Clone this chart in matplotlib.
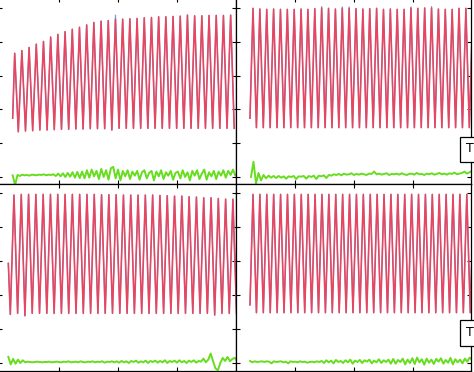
import numpy as np
import matplotlib
matplotlib.use("Agg")
import matplotlib.pyplot as plt

RED = "#e84560"
BLUE = "#5aa9e6"
GREEN = "#66dd1e"

# red/blue traces: start point, then alternating extrema
tl_start = (0.215, 1.74)
tl_first_t, tl_period = 0.249, 0.1220
tl_peaks = [3.66, 3.74, 3.83, 3.93, 4.01, 4.14, 4.22, 4.30, 4.37, 4.43, 4.50, 4.57,
            4.61, 4.63, 4.67, 4.67, 4.68, 4.69, 4.71, 4.72, 4.74, 4.74, 4.75, 4.76,
            4.79, 4.77, 4.77, 4.78, 4.78, 4.78, 4.79]
tl_troughs = [1.34, 1.36, 1.37, 1.39, 1.39, 1.40, 1.41, 1.41, 1.42, 1.42, 1.43, 1.43,
              1.43, 1.39, 1.44, 1.44, 1.44, 1.44, 1.44, 1.44, 1.44, 1.44, 1.44, 1.44,
              1.44, 1.44, 1.44, 1.44, 1.44, 1.44, 1.44]
tl_blue = {14: 4.79}

tr_start = (0.237, 1.74)
tr_first_t, tr_period = 0.288, 0.1164
tr_peaks = [4.99, 4.97, 4.96, 4.97, 4.96, 4.96, 4.96, 4.97, 4.96, 4.98, 5.00, 4.99,
            4.97, 4.99, 4.99, 4.98, 4.97, 4.98, 4.99, 4.96, 4.97, 4.96, 4.96, 5.00,
            4.99, 5.00, 5.00, 4.97, 4.96, 4.96, 4.99, 4.99, 5.01]
tr_troughs = [1.46] * 32
tr_blue = {10: 5.04, 13: 5.03, 14: 5.03, 23: 5.03, 26: 5.04, 32: 5.04}

bl_start = (0.141, 2.93)
bl_first_t, bl_period = 0.175, 0.1237
bl_troughs = [1.43, 1.46, 1.39, 1.46, 1.46, 1.46, 1.46, 1.46, 1.46, 1.46, 1.46, 1.46,
              1.46, 1.46, 1.46, 1.46, 1.46, 1.46, 1.46, 1.46, 1.46, 1.46, 1.46, 1.46,
              1.46, 1.46, 1.46, 1.46, 1.41, 1.46, 1.46, 1.46]
bl_peaks = [4.94, 4.96, 4.96, 4.96, 4.96, 4.96, 4.96, 4.96, 4.96, 4.96, 4.96, 4.96,
            4.95, 4.95, 4.95, 4.94, 4.94, 4.94, 4.94, 4.94, 4.93, 4.92, 4.91, 4.91,
            4.89, 4.88, 4.86, 4.86, 4.84, 4.82, 4.82]
bl_blue = {}

br_start = (0.237, 1.71)
br_first_t, br_period = 0.288, 0.1169
br_peaks = [4.96] * 33
br_troughs = [1.48] * 32
br_blue = {}

# green error traces
tl_green_t = (0.215, 4.03)
tl_green = [0.05, -0.24, 0.06, 0.03, 0.07, 0.05, 0.06, 0.04, 0.07, 0.06, 0.05, 0.07,
            0.06, 0.08, 0.05, 0.07, 0.06, 0.08, 0.03, 0.10, 0.02, 0.11, 0.00, 0.12,
            0.01, 0.14, -0.02, 0.15, -0.03, 0.16, -0.04, 0.20, -0.02, 0.22, 0.02, 0.18,
            -0.06, 0.24, 0.00, 0.20, -0.08, 0.26, 0.30, -0.04, 0.22, -0.10, 0.18, 0.02,
            0.20, -0.06, 0.16, 0.04, 0.18, -0.08, 0.14, 0.20, -0.04, 0.12, 0.18, -0.10,
            0.16, 0.02, 0.20, -0.06, 0.14, 0.04, 0.18, -0.08, 0.12, 0.16, -0.04, 0.20,
            0.00, 0.14, -0.10, 0.18, 0.04, 0.20, -0.06, 0.10, 0.22, -0.08, 0.14, 0.02,
            0.18, -0.06, 0.16, 0.04, 0.20, -0.02, 0.18, 0.06, 0.22, 0.04, 0.12]

tr_green_t = (0.254, 4.0)
tr_green = [0.00, 0.45, -0.19, 0.12, -0.10, 0.06, -0.04, 0.04, -0.02, 0.03, -0.03, 0.03,
            -0.02, 0.02, -0.05, 0.02, 0.00, 0.03, -0.06, 0.02, 0.01, 0.03, -0.05, 0.03,
            0.00, 0.04, -0.06, 0.04, 0.02, 0.05, -0.03, 0.06, 0.04, 0.08, 0.06, 0.09,
            0.05, 0.10, 0.07, 0.08, 0.11, 0.06, 0.09, 0.07, 0.10, 0.08, 0.06, 0.10,
            0.09, 0.16, 0.08, 0.10, 0.07, 0.09, 0.11, 0.06, 0.09, 0.08, 0.10, 0.07,
            0.11, 0.08, 0.06, 0.09, 0.10, 0.07, 0.12, 0.08, 0.09, 0.06, 0.10, 0.08,
            0.11, 0.07, 0.09, 0.12, 0.08, 0.10, 0.07, 0.11, 0.09, 0.13, 0.08, 0.10,
            0.12, 0.16, 0.10, 0.14, 0.18]

bl_green_t = (0.141, 4.02)
bl_green = [0.18, -0.04, 0.12, -0.02, 0.10, 0.00, 0.08, 0.02, 0.04,
            0.03, 0.02, 0.03, 0.04, 0.03, 0.02, 0.03, 0.03, 0.04, 0.02, 0.03, 0.04,
            0.03, 0.02, 0.04, 0.03, 0.05, 0.02, 0.03, 0.04, 0.02, 0.05, 0.03, 0.02,
            0.04, 0.03, 0.05, 0.02, 0.04, 0.03, 0.05, 0.01, 0.04, 0.03, 0.05, 0.02,
            0.05, 0.01, 0.06, 0.02, 0.05, 0.00, 0.06, 0.03, 0.07, 0.01, 0.05, 0.02,
            0.07, 0.00, 0.06, 0.03, 0.07, 0.01, 0.06, 0.02, 0.08, 0.00, 0.06, 0.03,
            0.07, 0.01, 0.08, 0.02, 0.06, 0.00, 0.07, 0.03, 0.08, 0.01, 0.06,
            0.04, 0.13, 0.02, 0.10, 0.28, 0.05, -0.16, -0.21, 0.00, 0.15, 0.06, 0.18,
            0.05, 0.12, 0.15, 0.06]

br_green_t = (0.237, 4.0)
br_green = [0.06, 0.02, 0.05, 0.03, 0.04, 0.05, 0.03, 0.05, 0.04, -0.01, 0.05, 0.03,
            0.04, 0.05, 0.02, 0.04, -0.01, 0.05, 0.03, 0.04, 0.02, 0.05, 0.03, 0.04,
            0.01, 0.03, 0.04, 0.02, 0.05, 0.03,
            0.06, 0.00, 0.08, 0.02, 0.07, -0.01, 0.09, 0.03, 0.06, 0.00, 0.08, 0.02,
            0.10, -0.02, 0.07, 0.03, 0.09, 0.00, 0.08, 0.04, 0.10, -0.01, 0.07, 0.02,
            0.11, 0.00, 0.08, 0.03, 0.10, -0.02,
            0.12, -0.02, 0.09, 0.03, 0.13, -0.04, 0.10, 0.00, 0.14, -0.03, 0.16, 0.02,
            0.11, -0.05, 0.13, 0.01, 0.10, -0.03, 0.12, 0.04, 0.14, -0.02, 0.09, 0.01,
            0.15, -0.04, 0.11, 0.02, 0.10, -0.01, 0.13, 0.04, 0.16, 0.10]


def trace(start, first_t, period, first, second):
    ts = [start[0]]
    vs = [start[1]]
    for k in range(len(first)):
        ts.append(first_t + k * period)
        vs.append(first[k])
        if k < len(second):
            ts.append(first_t + (k + 0.5) * period)
            vs.append(second[k])
    return ts, vs


def with_blue(values, overrides):
    out = list(values)
    for k, v in overrides.items():
        out[k] = v
    return out


W, H = 474, 372
fig = plt.figure(figsize=(W / 100, H / 100), dpi=100)

panels = [
    # rect in px: x0, x1, ytop, ybottom
    dict(rect=(-2, 236, -2, 184), xlim=(-2 / 59, 4.0), ylim=(-0.207, 5.296),
         start=tl_start, t0=tl_first_t, per=tl_period, first=tl_peaks, second=tl_troughs,
         blue=tl_blue, blue_on="first", green=tl_green, gt=tl_green_t, label=None),
    dict(rect=(236, 471, -2, 184), xlim=(0, 235 / 59), ylim=(-0.207, 5.296),
         start=tr_start, t0=tr_first_t, per=tr_period, first=tr_peaks, second=tr_troughs,
         blue=tr_blue, blue_on="first", green=tr_green, gt=tr_green_t, label=(0.974, 0.186)),
    dict(rect=(-2, 236, 184, 371), xlim=(-2 / 59, 4.0), ylim=(-0.235, 5.265),
         start=bl_start, t0=bl_first_t, per=bl_period, first=bl_troughs, second=bl_peaks,
         blue=bl_blue, blue_on="second", green=bl_green, gt=bl_green_t, label=None),
    dict(rect=(236, 471, 184, 371), xlim=(0, 235 / 59), ylim=(-0.235, 5.265),
         start=br_start, t0=br_first_t, per=br_period, first=br_peaks, second=br_troughs,
         blue=br_blue, blue_on="first", green=br_green, gt=br_green_t, label=(0.974, 0.203)),
]

for p in panels:
    x0, x1, yt, yb = p["rect"]
    ax = fig.add_axes([x0 / W, (H - yb) / H, (x1 - x0) / W, (yb - yt) / H])

    if p["blue_on"] == "first":
        bfirst, bsecond = with_blue(p["first"], p["blue"]), p["second"]
    else:
        bfirst, bsecond = p["first"], with_blue(p["second"], p["blue"])
    bt, bv = trace(p["start"], p["t0"], p["per"], bfirst, bsecond)
    rt, rv = trace(p["start"], p["t0"], p["per"], p["first"], p["second"])
    ax.plot(bt, bv, color=BLUE, lw=0.9)
    ax.plot(rt, rv, color=RED, lw=1.15)

    gt = np.linspace(p["gt"][0], p["gt"][1], len(p["green"]))
    ax.plot(gt, p["green"], color=GREEN, lw=1.4)

    ax.set_xlim(*p["xlim"])
    ax.set_ylim(*p["ylim"])
    ax.set_xticks([1, 2, 3])
    ax.set_yticks([0, 1, 2, 3, 4, 5])
    ax.tick_params(direction="in", length=3, width=0.8, top=True, right=True,
                   labelbottom=False, labelleft=False)
    for s in ax.spines.values():
        s.set_linewidth(0.9)

    if p["label"] is not None:
        ax.text(p["label"][0], p["label"][1], "T$_1$", transform=ax.transAxes,
                fontsize=9, ha="left", va="center", clip_on=False, zorder=5,
                bbox=dict(boxstyle="square,pad=0.4", fc="white", ec="black", lw=0.9))

fig.savefig("out.png", dpi=100)
